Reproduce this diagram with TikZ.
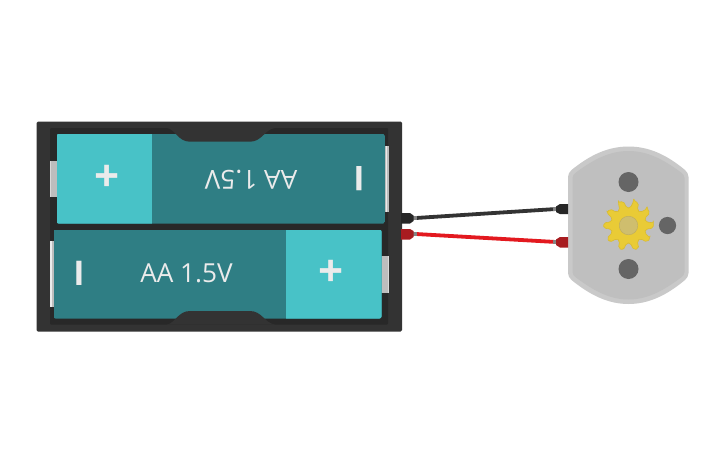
\documentclass[tikz,border=0pt]{standalone}
\usepackage{fontspec}
\setmainfont{Open Sans}
\newfontfamily\labelbold{Open Sans}[UprightFont=* Bold]
\definecolor{holder}{HTML}{333333}
\definecolor{holderin}{HTML}{282828}
\definecolor{teal}{HTML}{2F7E84}
\definecolor{cyanb}{HTML}{48C2C7}
\definecolor{marktxt}{HTML}{EBEBEB}
\definecolor{termc}{HTML}{BDBDBD}
\definecolor{bodyo}{HTML}{C9C9C9}
\definecolor{bodyi}{HTML}{BFBFBF}
\definecolor{holec}{HTML}{656565}
\definecolor{gearc}{HTML}{E9CB36}
\definecolor{geare}{HTML}{D9BC33}
\definecolor{hubc}{HTML}{CFBE6E}
\definecolor{wireb}{HTML}{333333}
\definecolor{wirer}{HTML}{E3191F}
\definecolor{plugr}{HTML}{A81C20}
\definecolor{plugb}{HTML}{262626}
\tikzset{
  x=1pt,y=-1pt,
  batterytext/.style={text=marktxt,inner sep=0pt,font=\fontsize{26.2}{26}\selectfont},
  polemark/.style={text=marktxt,inner sep=0pt,font=\labelbold\fontsize{34}{34}\selectfont},
  plusmark/.style={text=marktxt,inner sep=0pt,font=\labelbold\fontsize{44}{44}\selectfont},
  wirestyle/.style={line width=3.8pt},
  hole/.style={fill=holec},
  sleeve/.style={fill=termc!70!black},
}
\begin{document}
\begin{tikzpicture}
\useasboundingbox (0,0) rectangle (725,453);
\fill[white] (0,0) rectangle (725,453);
% holder
\fill[holder,rounded corners=1.5pt] (36.5,121.5) rectangle (402,331.5);
\fill[holderin,rounded corners=1pt] (50,128) rectangle (388,324.5);
% terminals
\fill[termc] (49.5,161) rectangle (57.5,197);
\fill[white!85!black] (49.5,161) rectangle (50.5,197);
\fill[termc] (385,146) rectangle (388.5,212);
\fill[white!92!black] (385.8,146) rectangle (387,212);
\fill[termc] (49.5,241) rectangle (53.5,307);
\fill[white!92!black] (50.3,241) rectangle (51.5,307);
\fill[termc] (381,256) rectangle (388.5,292.5);
\fill[white!85!black] (387.5,256) rectangle (388.5,292.5);
% batteries
\begin{scope}
\clip[rounded corners=2pt] (56.5,134) rectangle (385,223.5);
\fill[teal] (56.5,134) rectangle (385,223.5);
\fill[cyanb] (56.5,134) rectangle (152,223.5);
\end{scope}
\begin{scope}
\clip[rounded corners=2pt] (53.5,229.5) rectangle (381.5,318.5);
\fill[teal] (53.5,229.5) rectangle (381.5,318.5);
\fill[cyanb] (286,229.5) rectangle (381.5,318.5);
\end{scope}
% notches
\fill[holder] (167,128) .. controls (175,129) and (178,141.7) .. (190,141.7) -- (250,141.7) .. controls (262,141.7) and (265,129) .. (275,128) -- cycle;
\fill[holder] (167,324.5) .. controls (175,323.5) and (178,311) .. (190,311) -- (250,311) .. controls (262,311) and (265,323.5) .. (275,324.5) -- cycle;
% labels
\node[batterytext,rotate=180] (topv) at (251,179.5) {AA 1.5V};
\node[batterytext] (botv) at (186.5,273.5) {AA 1.5V};
\node[plusmark] (topplus) at (107,178) {+};
\node[plusmark] (botplus) at (331,273.5) {+};
\node[polemark,rotate=180] (topminus) at (359,178.5) {I};
\node[polemark] (botminus) at (79,273.5) {I};
% motor
\fill[bodyo] (568,177) .. controls (568,174) and (569.5,172) .. (571.5,170) .. controls (590,155) and (608,146.5) .. (628.5,146.5) .. controls (649,146.5) and (667,155) .. (685,170) .. controls (687,172) and (688.5,174) .. (688.5,177) -- (688.5,273) .. controls (688.5,276) and (687,278) .. (685,280) .. controls (667,295) and (649,304) .. (628.5,304) .. controls (608,304) and (590,295) .. (571.5,280) .. controls (569.5,278) and (568,276) .. (568,273) -- cycle;
\fill[bodyi] (572.5,178) .. controls (572.5,175.5) and (574,174) .. (576,172.5) .. controls (594,159) and (610,151) .. (628.5,151) .. controls (647,151) and (663,159) .. (681,172.5) .. controls (683,174) and (684.5,175.5) .. (684.5,178) -- (684.5,272) .. controls (684.5,274.5) and (683,276) .. (681,277.5) .. controls (663,291) and (647,299.5) .. (628.5,299.5) .. controls (610,299.5) and (594,291) .. (576,277.5) .. controls (574,276) and (572.5,274.5) .. (572.5,272) -- cycle;
\fill[hole] (628.5,182) circle (10);
\fill[hole] (628.5,269) circle (10);
\fill[hole] (667.5,225.5) circle (8.6);
\begin{scope}[shift={(628.5,225.5)}]
\filldraw[fill=gearc,draw=geare,line width=0.6pt,rounded corners=2pt,line join=round]
  (-6:25) \foreach \a in {0,36,...,324} { -- (\a-6:25) -- (\a+6:25) -- (\a+12:17.5) -- (\a+24:17.5) -- (\a+30:25)} -- cycle;
\filldraw[fill=hubc,draw=hubc!90!black,line width=0.4pt] (0,0) circle (9.3);
\end{scope}
% plugs and wires
\coordinate (blackL) at (416,218);
\coordinate (blackR) at (556,209);
\coordinate (redL) at (416,234);
\coordinate (redR) at (556,242);
\draw[wireb,wirestyle] (blackL) -- (blackR);
\draw[wirer,wirestyle] (redL) -- (redR);
\fill[sleeve] (412,215.8) rectangle (417,220.2);
\fill[sleeve] (412,231.8) rectangle (417,236.2);
\fill[sleeve] (553,206.8) rectangle (558,211.2);
\fill[sleeve] (553,239.8) rectangle (558,244.2);
\fill[plugb] (401,213) -- (410,213) -- (413.5,215.5) -- (413.5,221) -- (410,223.5) -- (401,223.5) -- cycle;
\fill[plugr] (401,229) -- (410,229) -- (413.5,231) -- (413.5,237) -- (410,239.5) -- (401,239.5) -- cycle;
\fill[plugb] (568,204) -- (560,204) -- (556,206.5) -- (556,212) -- (560,214) -- (568,214) -- cycle;
\fill[plugr] (568,237) -- (560,237) -- (556,239.5) -- (556,245) -- (560,247.5) -- (568,247.5) -- cycle;
\end{tikzpicture}
\end{document}
